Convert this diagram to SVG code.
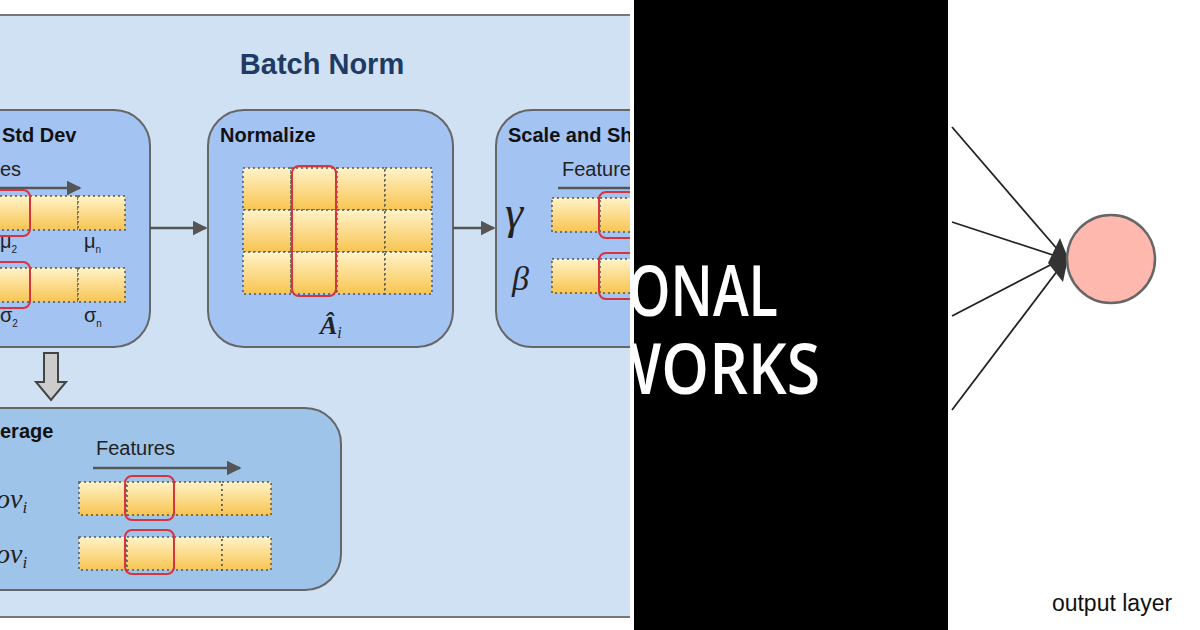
<svg xmlns="http://www.w3.org/2000/svg" width="1200" height="630" viewBox="0 0 1200 630">
<defs>
<linearGradient id="cell" x1="0" y1="0" x2="0" y2="1"><stop offset="0" stop-color="#fff3c8"/><stop offset="1" stop-color="#f8c451"/></linearGradient>
<marker id="ah" viewBox="0 0 10 10" refX="9" refY="5" markerWidth="6" markerHeight="6" orient="auto"><path d="M0,0L10,5L0,10z" fill="#555"/></marker>
<clipPath id="cl"><rect x="0" y="0" width="630" height="630"/></clipPath>
<clipPath id="cb"><rect x="634" y="0" width="314" height="630"/></clipPath>
<style>
.box{fill:#a3c3f3;stroke:#666;stroke-width:2}
.c{fill:url(#cell);stroke:#555;stroke-width:1.5;stroke-dasharray:2 3}
.r{fill:none;stroke:#d8343f;stroke-width:2}
.h{font-family:"Liberation Sans",Arial,sans-serif;font-weight:bold;font-size:20px;fill:#111}
.t{font-family:"Liberation Sans",Arial,sans-serif;font-size:20px;fill:#222}
.m{font-family:"Liberation Serif","Times New Roman",serif;font-style:italic;fill:#222}
.ln{stroke:#555;stroke-width:2.5;fill:none}
</style>
</defs>
<rect width="1200" height="630" fill="#fff"/>
<g clip-path="url(#cl)">
<rect x="-5" y="15" width="640" height="602" fill="#cfe1f3" stroke="#777" stroke-width="2"/>
<text x="322" y="74" text-anchor="middle" font-family="Liberation Sans,Arial,sans-serif" font-weight="bold" font-size="29" fill="#1f3b63">Batch Norm</text>
<g id="stddev">
<rect class="box" x="-100" y="110" width="250" height="237" rx="36"/>
<text class="h" x="2" y="142">Std Dev</text>
<text class="t" x="0" y="176">es</text>
<line class="ln" x1="-20" y1="188" x2="80" y2="188" marker-end="url(#ah)"/>
<rect class="c" x="-20" y="196" width="50" height="34"/><rect class="c" x="30" y="196" width="48" height="34"/><rect class="c" x="78" y="196" width="47" height="34"/>
<rect class="r" x="-22" y="190" width="52" height="46" rx="7"/>
<text class="t" x="0" y="248" font-size="16">μ<tspan font-size="10" dy="5">2</tspan></text>
<text class="t" x="84" y="248" font-size="16">μ<tspan font-size="10" dy="5">n</tspan></text>
<rect class="c" x="-20" y="268" width="50" height="34"/><rect class="c" x="30" y="268" width="48" height="34"/><rect class="c" x="78" y="268" width="47" height="34"/>
<rect class="r" x="-22" y="262" width="52" height="46" rx="7"/>
<text class="t" x="0" y="322" font-size="16">σ<tspan font-size="10" dy="5">2</tspan></text>
<text class="t" x="84" y="322" font-size="16">σ<tspan font-size="10" dy="5">n</tspan></text>
</g>
<g id="normalize">
<rect class="box" x="208" y="110" width="245" height="237" rx="36"/>
<text class="h" x="220" y="142">Normalize</text>
<g>
<rect class="c" x="243" y="168" width="48" height="42"/><rect class="c" x="291" y="168" width="46" height="42"/><rect class="c" x="337" y="168" width="48" height="42"/><rect class="c" x="385" y="168" width="47" height="42"/>
<rect class="c" x="243" y="210" width="48" height="42"/><rect class="c" x="291" y="210" width="46" height="42"/><rect class="c" x="337" y="210" width="48" height="42"/><rect class="c" x="385" y="210" width="47" height="42"/>
<rect class="c" x="243" y="252" width="48" height="42"/><rect class="c" x="291" y="252" width="46" height="42"/><rect class="c" x="337" y="252" width="48" height="42"/><rect class="c" x="385" y="252" width="47" height="42"/>
</g>
<rect class="r" x="292" y="166" width="44" height="130" rx="7"/>
<text class="m" x="320" y="334" font-size="26" font-weight="bold">Â<tspan font-size="16" dy="4" font-weight="normal">i</tspan></text>
</g>
<g id="scale">
<rect class="box" x="496" y="110" width="250" height="237" rx="36"/>
<text class="h" x="508" y="142">Scale and Shift</text>
<text class="t" x="562" y="176">Features</text>
<line class="ln" x1="558" y1="188" x2="660" y2="188"/>
<text class="m" x="505" y="228" font-size="46" font-style="italic">γ</text>
<rect class="c" x="552" y="198" width="48" height="34"/><rect class="c" x="600" y="198" width="48" height="34"/>
<rect class="r" x="599" y="192" width="50" height="46" rx="7"/>
<text class="m" x="512" y="290" font-size="34">β</text>
<rect class="c" x="552" y="259" width="48" height="34"/><rect class="c" x="600" y="259" width="48" height="34"/>
<rect class="r" x="599" y="253" width="50" height="46" rx="7"/>
</g>
<g id="average">
<rect x="-100" y="408" width="441" height="182" rx="36" fill="#9fc4ea" stroke="#666" stroke-width="2"/>
<text class="h" x="0" y="438">erage</text>
<text class="t" x="96" y="455">Features</text>
<line class="ln" x1="93" y1="468" x2="240" y2="468" marker-end="url(#ah)"/>
<text class="m" x="-4" y="508" font-size="28">ov<tspan font-size="17" dy="5">i</tspan></text>
<rect class="c" x="79" y="482" width="48" height="33"/><rect class="c" x="127" y="482" width="47" height="33"/><rect class="c" x="174" y="482" width="48" height="33"/><rect class="c" x="222" y="482" width="49" height="33"/>
<rect class="r" x="125" y="476" width="49" height="44" rx="7"/>
<text class="m" x="-4" y="563" font-size="28">ov<tspan font-size="17" dy="5">i</tspan></text>
<rect class="c" x="79" y="537" width="48" height="33"/><rect class="c" x="127" y="537" width="47" height="33"/><rect class="c" x="174" y="537" width="48" height="33"/><rect class="c" x="222" y="537" width="49" height="33"/>
<rect class="r" x="125" y="530" width="49" height="44" rx="7"/>
</g>
<g id="connectors">
<line class="ln" x1="150" y1="228" x2="206" y2="228" marker-end="url(#ah)"/>
<line class="ln" x1="453" y1="228" x2="494" y2="228" marker-end="url(#ah)"/>
<path d="M44,353H58V382H66L51,400L36,382H44Z" fill="#ccc" stroke="#444" stroke-width="2"/>
</g>
</g>
<rect x="634" y="0" width="314" height="630" fill="#000"/>
<g clip-path="url(#cb)" font-family="Open Sans,Liberation Sans,sans-serif" font-weight="600" font-size="70" fill="#fff">
<text x="628" y="316" textLength="150" lengthAdjust="spacingAndGlyphs">ONAL</text>
<text x="604" y="394" textLength="216" lengthAdjust="spacingAndGlyphs">WORKS</text>
</g>
<g id="net-connectors" stroke="#222" stroke-width="1.8">
<line x1="952" y1="127" x2="1058" y2="250"/>
<line x1="952" y1="222" x2="1056" y2="256"/>
<line x1="952" y1="316" x2="1056" y2="262"/>
<line x1="952" y1="410" x2="1058" y2="270"/>
<path d="M1060,238L1068,258L1063,282L1048,263Z" fill="#333" stroke="none"/>
</g>
<g id="output">
<circle cx="1111" cy="259" r="44" fill="#feb8ae" stroke="#666" stroke-width="2.5"/>
<text x="1112" y="611" text-anchor="middle" font-family="Liberation Sans,Arial,sans-serif" font-size="23" fill="#111">output layer</text>
</g>
</svg>
